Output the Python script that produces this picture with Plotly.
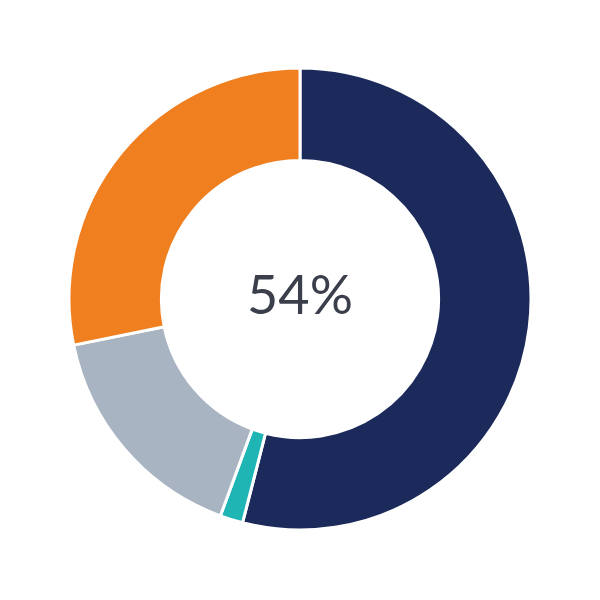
import plotly.graph_objects as go

# Slice data, clockwise from 12 o'clock
labels = ['Navy', 'Teal', 'Gray', 'Orange']
values = [54, 1.6, 16.2, 28.2]
colors = ['#1b2a5b', '#1fb5b5', '#a9b4c3', '#f07f20']
center_text = '54%'

fig = go.Figure()

fig.add_trace(go.Pie(
    labels=labels,
    values=values,
    hole=0.6,
    sort=False,
    direction='clockwise',
    rotation=0,
    marker=dict(colors=colors, line=dict(color='white', width=3)),
    textinfo='none',
    hoverinfo='label+percent',
    showlegend=False,
))

# Big number in the middle of the ring
fig.add_annotation(
    text=center_text,
    x=0.5, y=0.5, xref='paper', yref='paper',
    yshift=6,
    showarrow=False,
    font=dict(family='Lato', size=54, color='#3a3f4b'),
)

# page body has an 8px margin, so shift the margins to keep the ring centred
fig.update_layout(
    width=600,
    height=600,
    margin=dict(l=60, r=76, t=60, b=78),
    paper_bgcolor='white',
    plot_bgcolor='white',
)

fig.write_html("out.html")
